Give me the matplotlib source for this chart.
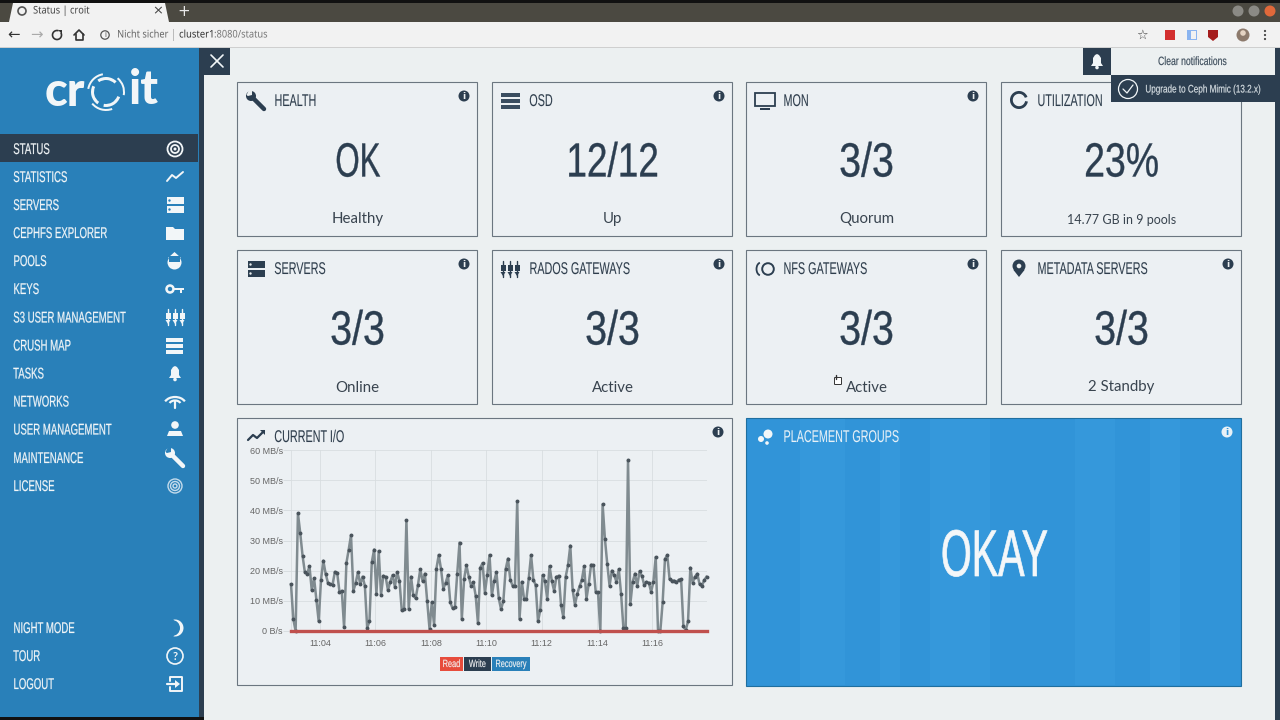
import numpy as np
import matplotlib
matplotlib.use("Agg")
import matplotlib.pyplot as plt
from matplotlib.patches import Rectangle, Circle, Wedge, Polygon, FancyBboxPatch, Arc
from matplotlib.patheffects import AbstractPathEffect
from matplotlib.transforms import Affine2D

# current i/o, MB/s, one sample every 5 s
write_mbs = [15.5, 4, 0, 39, 32.5, 25, 19.5, 19, 21.5, 13.5, 17.5, 10.3, 3.2, 17, 23.3, 19, 16, 15.5, 15.3, 19.6,
             19.3, 13, 13.3, 1.2, 22.5, 27, 31.8, 13.3, 15.8, 19.5, 15.5, 18, 15, 1, 3.3, 22.8, 27, 12.3, 26.5, 12,
             18.3, 18, 13.5, 16.3, 18.5, 14.7, 19.5, 16.5, 6.8, 7.3, 36.7, 7.3, 18, 11.8, 10.8, 15.2, 20.5, 16.5, 19, 9.8,
             0.8, 9.5, 2, 20.7, 25.2, 20.5, 14, 16, 18.5, 9.5, 7.5, 7.8, 18.9, 29.3, 4, 17.3, 21.8, 18, 15, 16.2,
             11.7, 2.5, 21, 22.5, 12.7, 18.5, 25.2, 11.8, 16.5, 19.5, 10.8, 7.2, 10, 20.5, 24, 17, 15, 15, 43, 4,
             16.3, 10.5, 10.7, 17.5, 25.2, 17, 15.2, 3.2, 7, 18.5, 16.5, 10.7, 21.5, 16.5, 13.3, 18, 18.3, 8.5, 4.5, 18,
             21.8, 28.3, 13.7, 8.7, 12.3, 14.8, 17, 21.5, 10.7, 15.7, 22, 21.8, 13, 12.8, 0, 42, 30.5, 22.3, 15, 20,
             18.5, 16.3, 20.5, 12.3, 1, 1, 56.7, 8.9, 16.3, 19, 15, 19.8, 18.3, 15.3, 16.3, 16, 13, 16.3, 24.5, 0,
             0, 9.5, 23.8, 25.2, 17.2, 16.7, 16.7, 16.2, 17, 17.2, 1.5, 0.3, 3.2, 21, 16, 18, 19, 15.5, 15, 16.8, 18]
read_mbs = [0] * len(write_mbs)
time_ticks = [64, 66, 68, 70, 72, 74, 76]
time_labels = ["11:04", "11:06", "11:08", "11:10", "11:12", "11:14", "11:16"]
rate_ticks = [0, 10, 20, 30, 40, 50, 60]
rate_labels = ["0 B/s", "10 MB/s", "20 MB/s", "30 MB/s", "40 MB/s", "50 MB/s", "60 MB/s"]
legend_names = ["Read", "Write", "Recovery"]

nav_top = ["STATUS", "STATISTICS", "SERVERS", "CEPHFS EXPLORER", "POOLS", "KEYS", "S3 USER MANAGEMENT",
           "CRUSH MAP", "TASKS", "NETWORKS", "USER MANAGEMENT", "MAINTENANCE", "LICENSE"]
nav_bottom = ["NIGHT MODE", "TOUR", "LOGOUT"]

card_titles = ["HEALTH", "OSD", "MON", "UTILIZATION",
               "SERVERS", "RADOS GATEWAYS", "NFS GATEWAYS", "METADATA SERVERS"]
card_values = ["OK", "12/12", "3/3", "23%", "3/3", "3/3", "3/3", "3/3"]
card_notes = ["Healthy", "Up", "Quorum", "14.77 GB in 9 pools", "Online", "Active", "Active", "2 Standby"]

BLUE = "#2980b9"
BRIGHT = "#3194d8"
DARK = "#2c3e50"
PAGE = "#ecf0f1"
WHITE = "#f2f6f8"
SANS = ["Liberation Sans", "DejaVu Sans"]


def fs(px):
    # font size in points from pixels at dpi 100
    return px * 0.72


class Squeeze(AbstractPathEffect):
    # no condensed font installed, so narrow the glyphs at draw time
    def __init__(self, s, ha, dx=0, thick=0):
        super().__init__()
        self.s = s
        self.ha = ha
        self.dx = dx
        self.thick = thick

    def draw_path(self, renderer, gc, tpath, affine, rgbFace=None):
        ext = tpath.get_extents(affine)
        ref = ext.x0 if self.ha == "left" else (ext.x0 + ext.x1) / 2
        narrow = affine + Affine2D().translate(-ref, 0).scale(self.s, 1).translate(ref + self.dx, 0)
        gc0 = renderer.new_gc()
        gc0.copy_properties(gc)
        if self.thick:
            gc0.set_foreground(rgbFace)
            gc0.set_linewidth(self.thick)
        renderer.draw_path(gc0, tpath, narrow, rgbFace)
        gc0.restore()


fig = plt.figure(figsize=(12.8, 7.2), dpi=100, facecolor=PAGE)
ui = fig.add_axes([0, 0, 1, 1])
ui.set_xlim(0, 1280)
ui.set_ylim(720, 0)
ui.axis("off")


def box(x0, y0, x1, y1, color, ec="none", lw=0, z=1):
    ui.add_patch(Rectangle((x0, y0), x1 - x0, y1 - y0, fc=color, ec=ec, lw=lw, zorder=z))


def dot(x, y, r, color, z=5):
    ui.add_patch(Circle((x, y), r, fc=color, ec="none", zorder=z))


def ring(x, y, r, color, lw=1.3, z=5):
    ui.add_patch(Circle((x, y), r, fc="none", ec=color, lw=lw, zorder=z))


def poly(points, color, z=5):
    ui.add_patch(Polygon(points, closed=True, fc=color, ec="none", zorder=z))


def stroke(xs, ys, color, lw=1.5, z=5):
    ui.plot(xs, ys, color=color, lw=lw, zorder=z, solid_capstyle="round", solid_joinstyle="round")


def label(x, y, s, px, color, family=SANS, ha="left", weight="normal", z=6, squeeze=None, dx=0, thick=0):
    t = ui.text(x, y, s, fontsize=fs(px), color=color, family=family, ha=ha, va="center", weight=weight, zorder=z)
    if squeeze is not None:
        t.set_path_effects([Squeeze(squeeze, ha, dx, thick)])
    return t


# icons, all centred on x, y
def icon_servers(x, y, c, w=17):
    for dy in (-4.5, 4.5):
        box(x - w / 2, y + dy - 3.5, x + w / 2, y + dy + 3.5, c, z=5)
        dot(x - w / 2 + 3, y + dy, 1.2, PAGE if c == DARK else BLUE, z=6)


def icon_trend(x, y, c):
    stroke([x - 8, x - 3, x + 1, x + 8], [y + 4, y - 1, y + 2, y - 5], c, 1.6)
    poly([(x + 4, y - 6), (x + 9, y - 6), (x + 9, y - 1)], c)


def icon_wrench(x, y, c):
    stroke([x - 4, x + 8], [y - 4, y + 8], c, 3.2)
    dot(x - 5, y - 5, 5, c)
    poly([(x - 7, y - 11), (x - 4, y - 11), (x - 4, y - 6), (x - 8, y - 5), (x - 12, y - 7), (x - 10, y - 5)],
         PAGE if c == DARK else BLUE, z=6)


def icon_sliders(x, y, c):
    for dx in (-7, 0, 7):
        stroke([x + dx, x + dx], [y - 8, y + 8], c, 1.0)
        box(x + dx - 2.5, y - 4, x + dx + 2.5, y + 2, c, z=5)
        poly([(x + dx - 2.5, y + 3), (x + dx + 2.5, y + 3), (x + dx, y + 7)], c)


def icon_bell(x, y, c, z=5):
    poly([(x - 6, y + 5), (x - 4, y + 2), (x - 4, y - 3), (x - 2, y - 6), (x, y - 7), (x + 2, y - 6), (x + 4, y - 3),
          (x + 4, y + 2), (x + 6, y + 5)], c, z=z)
    dot(x, y + 6.5, 1.8, c, z=z)


def icon_info(x, y, c, fg):
    dot(x, y, 5.5, c)
    ui.text(x, y + 0.3, "i", fontsize=fs(9), color=fg, ha="center", va="center", weight="bold",
            family="DejaVu Sans", zorder=6)


# window chrome
box(0, 0, 1280, 3, "#111111")
box(0, 3, 1280, 23, "#4b4941")
poly([(9, 22), (13, 3), (165, 3), (169, 22)], "#f2f2f2", z=2)
box(0, 22, 1280, 47, "#f2f2f2")
box(0, 47, 1280, 48, "#cfcfcf")
ring(22, 11, 4, "#555555", 1.2)
label(33, 11, "Status | croit", 10.5, "#444444", "Noto Sans", squeeze=0.88)
label(158, 11, "×", 13, "#444444", "DejaVu Sans", ha="center")
label(184, 11, "+", 15, "#e8e8e8", "DejaVu Sans", ha="center")
label(14, 35, "←", 15, "#333333", "DejaVu Sans", ha="center")
label(36, 35, "→", 15, "#aaaaaa", "DejaVu Sans", ha="center")
ui.add_patch(Arc((57, 35), 9, 9, theta1=-30, theta2=290, ec="#333333", lw=1.2, zorder=5))
poly([(58, 30), (62, 30), (62, 34)], "#333333")
stroke([74, 79, 84], [35, 30, 35], "#333333", 1.2)
stroke([75.5, 75.5, 82.5, 82.5], [34, 40, 40, 34], "#333333", 1.2)
ring(105, 35, 4.2, "#555555", 0.9)
label(105, 35, "i", 7, "#555555", "DejaVu Sans", ha="center")
label(117, 35, "Nicht sicher", 10.5, "#666666", "Noto Sans", squeeze=0.88)
box(173, 29, 174, 41, "#bbbbbb")
label(179, 35, "cluster1", 10.5, "#333333", "Noto Sans", squeeze=0.9)
label(222, 35, ":8080/status", 10.5, "#777777", "Noto Sans", squeeze=0.88, dx=-8)
label(1142, 35, "☆", 13, "#444444", "DejaVu Sans", ha="center")
box(1165, 30, 1175, 40, "#d32f2f", z=5)
box(1187, 30, 1197, 40, "#8ab4f0", z=5)
box(1191, 31, 1196, 39, "#f2f2f2", z=6)
poly([(1208, 30), (1218, 30), (1218, 37), (1213, 41), (1208, 37)], "#a51c1c")
dot(1243, 35, 6.5, "#8d7a6c")
dot(1243, 33, 2.8, "#e5d3c3", z=6)
for dy in (-4, 0, 4):
    dot(1265, 35 + dy, 1.1, "#444444")
dot(1238, 11, 5.5, "#8b8a85")
dot(1254, 11, 5.5, "#8b8a85")
dot(1270, 11, 5.5, "#e0683a")

# sidebar
box(0, 48, 199, 717, BLUE)
box(199, 48, 204, 717, DARK, z=2)
box(199, 48, 230, 75, DARK, z=2)
stroke([211, 223], [55, 67], WHITE, 1.2)
stroke([211, 223], [67, 55], WHITE, 1.2)
box(0, 717, 204, 720, "#111111", z=3)
box(1275, 48, 1280, 720, DARK, z=2)
box(0, 134, 198, 162, DARK, z=2)

# logo
label(45, 92, "cr", 47, WHITE, "Lato", weight="black")
label(129, 90, "it", 47, WHITE, "Lato", weight="black")
for a0, a1 in [(20, 100), (125, 205), (235, 315)]:
    ui.add_patch(Wedge((106, 92), 15, a0, a1, width=3, fc=WHITE, ec="none", zorder=5))
for a0, a1 in [(70, 140), (190, 260), (310, 370)]:
    ui.add_patch(Wedge((106, 92), 19, a0, a1, width=2, fc=WHITE, ec="none", zorder=5))

nav_y = [149.5, 177.5, 205.5, 233.5, 261.5, 289.5, 318, 346, 374, 402, 430, 458.5, 486.5]
for name, y in zip(nav_top, nav_y):
    label(13, y, name, 15.5, WHITE, squeeze=0.62, thick=0.15)
for name, y in zip(nav_bottom, [628.5, 656.5, 684.5]):
    label(13, y, name, 15.5, WHITE, squeeze=0.62, thick=0.15)

ring(175, 149, 7.5, WHITE, 1.3)
ring(175, 149, 4, WHITE, 1.3)
dot(175, 149, 1.5, WHITE)
stroke([167, 172, 176, 183], [181, 175, 178, 172], WHITE, 1.4)
icon_servers(175, 205, WHITE)
poly([(166, 227), (173, 227), (175, 229), (184, 229), (184, 240), (166, 240)], WHITE)
dot(174.5, 262.5, 7, WHITE)
poly([(168, 258), (174.5, 252), (181, 258)], WHITE)
box(169, 256, 180, 262, BLUE, z=6)
ring(170, 289, 3.5, WHITE, 1.8)
box(173, 288, 184, 290, WHITE, z=5)
box(180, 288, 182, 293, WHITE, z=5)
icon_sliders(175, 317, WHITE)
for dy in (-6, 0, 6):
    box(166, 345.5 + dy - 2, 183, 345.5 + dy + 2, WHITE, z=5)
icon_bell(175, 373, WHITE)
ui.add_patch(Arc((175, 405), 22, 16, theta1=200, theta2=340, ec=WHITE, lw=1.6, zorder=5))
ui.add_patch(Arc((175, 405), 12, 9, theta1=200, theta2=340, ec=WHITE, lw=1.6, zorder=5))
stroke([175, 175], [401, 408], WHITE, 1.6)
dot(175, 425, 3.8, WHITE)
poly([(167, 436), (169, 431), (181, 431), (183, 436)], WHITE)
icon_wrench(175, 458, WHITE)
ring(175, 486, 7, "#c5dcec", 1.0)
ring(175, 486, 4.5, "#c5dcec", 1.0)
ring(175, 486, 2, "#c5dcec", 1.0)
ui.add_patch(Wedge((175, 628), 8.5, -100, 100, fc=WHITE, ec="none", zorder=5))
ui.add_patch(Circle((172, 628), 8, fc=BLUE, ec="none", zorder=6))
ring(175, 656, 8, WHITE, 1.2)
label(175, 656, "?", 11, WHITE, "Lato", ha="center", weight="bold")
stroke([170, 170, 182, 182, 170, 170], [681, 677, 677, 691, 691, 687], WHITE, 1.4)
stroke([167, 177], [684, 684], WHITE, 1.6)
poly([(175, 680), (180, 684), (175, 688)], WHITE)

# status cards
card_x = [237, 492, 746, 1001]
card_y = [82, 250]
title_x = [274, 529, 783, 1037, 274, 529, 783, 1037]
value_squeeze = {"OK": 0.65, "12/12": 0.77, "3/3": 0.82, "23%": 0.78}
for i in range(8):
    x0 = card_x[i % 4]
    y0 = card_y[i // 4]
    box(x0, y0, x0 + 240, y0 + 154, "#ecf0f3", ec="#6b7680", lw=0.8, z=2)
    cx = x0 + 120.5
    label(title_x[i], y0 + 19.5, card_titles[i], 17, "#2e3d4c", squeeze=0.635, thick=0.05)
    label(cx, y0 + 82, card_values[i], 48, DARK, ha="center", squeeze=value_squeeze[card_values[i]], thick=0.25)
    note_px = 12.5 if i == 3 else 15
    label(cx, y0 + (138 if i == 3 else 137.5), card_notes[i], note_px, "#39444f", "Lato", ha="center")
    if i != 3:
        icon_info(x0 + 227, y0 + 14, DARK, PAGE)

icon_wrench(256, 101, DARK)
for dy in (-6, 0, 6):
    box(501, 101 + dy - 2, 520, 101 + dy + 2, "#3a4d60", z=5)
box(755, 93, 775, 106, "none", ec=DARK, lw=1.3, z=5)
box(760, 108, 770, 109.5, DARK, z=5)
ui.add_patch(Wedge((1019, 100), 9, 10, 340, width=2.8, fc=DARK, ec="none", zorder=5))
icon_servers(256, 269, DARK)
icon_sliders(510, 269, DARK)
ring(768, 269, 5.8, DARK, 1.4)
ui.add_patch(Arc((761, 269), 9, 13, theta1=100, theta2=260, ec=DARK, lw=1.3, zorder=5))
dot(1019, 266, 6.5, DARK)
poly([(1013.5, 270), (1024.5, 270), (1019, 277)], DARK)
dot(1019, 266, 2.3, PAGE, z=6)

# hand cursor over the NFS card
ui.add_patch(FancyBboxPatch((835, 378), 6, 6, boxstyle="round,pad=0.5", fc="white", ec="#333333", lw=0.7, zorder=7))
stroke([836, 836], [375, 379], "#333333", 1.0, z=8)

# notifications
box(1083, 48, 1111, 75, DARK, z=7)
icon_bell(1097, 61, WHITE, z=8)
box(1111, 48, 1275, 75, PAGE, z=7)
box(1111, 75, 1275, 102, DARK, z=7)
label(1192.5, 62, "Clear notifications", 12, "#3a4a59", ha="center", z=8, squeeze=0.72, thick=0.1)
label(1191, 89.5, "Upgrade to Ceph Mimic (13.2.x)", 11, "#dfe6ea", ha="center", z=8, squeeze=0.74, dx=12, thick=0.1)
ring(1128, 89, 9.5, WHITE, 0.9, z=8)
stroke([1123, 1127, 1133], [89, 93, 85], WHITE, 0.9, z=8)

# current i/o card
box(237, 418, 732, 685, "#ecf0f3", ec="#6b7680", lw=0.8, z=2)
icon_trend(256, 436, DARK)
label(274, 437.5, "CURRENT I/O", 17, "#2e3d4c", squeeze=0.635, thick=0.05)
icon_info(718, 432, DARK, PAGE)

# placement groups card
box(746, 418, 1241, 686, BRIGHT, ec="#1f6f9f", lw=0.8, z=2)
for sx, sw in [(800, 45), (880, 20), (930, 60), (1075, 40), (1150, 30)]:
    box(sx, 419, sx + sw, 685, "#3598db", z=2)
dot(761, 439, 3, WHITE)
dot(768, 434, 4.5, WHITE)
dot(767, 443, 1.8, WHITE)
label(783, 437.5, "PLACEMENT GROUPS", 17, "#e8f1f7", squeeze=0.635, thick=0.05)
icon_info(1227, 432, "#e8f1f7", BRIGHT)
label(994, 559, "OKAY", 66, "#f4f7f9", ha="center", squeeze=0.6, thick=0.5)

# legend of the chart
legend_boxes = [(440, 463, "#e74c3c"), (464, 491, DARK), (492, 530, BLUE)]
for name, (x0, x1, c) in zip(legend_names, legend_boxes):
    box(x0, 657, x1, 671, c, z=3)
    label((x0 + x1) / 2, 664, name, 10.5, "#f4f4f4", ha="center", squeeze=0.7, thick=0.1)

# the chart itself, 291-707 px wide and 450-631 px high
n = len(write_mbs)
minutes = 62.95 + np.arange(n) / 12
ax = fig.add_axes([291 / 1280, 1 - 631 / 720, 416 / 1280, 181 / 720], facecolor="none")
ax.set_xlim(62.95, 62.95 + 416 / 27.7)
ax.set_ylim(0, 60)
ax.plot(minutes, write_mbs, color="#808b90", lw=1.8, marker="o", ms=1.8, mfc="#4a545c", mec="#4a545c", zorder=3,
        clip_on=False)
ax.plot(minutes, read_mbs, color="#c0504d", lw=2.4, zorder=4, clip_on=False)
ax.set_xticks(time_ticks)
ax.set_xticklabels(time_labels)
ax.set_yticks(rate_ticks)
ax.set_yticklabels(rate_labels)
ax.tick_params(axis="x", length=0, pad=6, labelsize=fs(9), labelcolor="#666666")
ax.tick_params(axis="y", length=6, width=0.6, color="#d5dadd", pad=0, labelsize=fs(9), labelcolor="#666666")
ax.grid(True, color="#d8dde0", lw=0.6)
ax.set_axisbelow(True)
for side in ("top", "right", "bottom"):
    ax.spines[side].set_visible(False)
ax.spines["left"].set_color("#d8dde0")
ax.spines["left"].set_linewidth(0.6)
for t in ax.get_xticklabels() + ax.get_yticklabels():
    t.set_family(SANS)

fig.savefig("out.png", dpi=100)
